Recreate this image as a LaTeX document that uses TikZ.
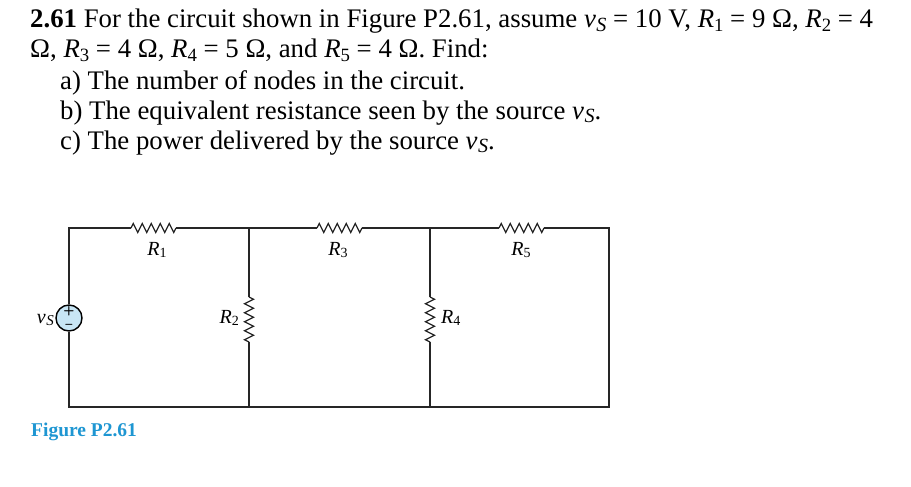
\documentclass[tikz,border=0pt]{standalone}
\usepackage{fontspec}
\setmainfont{Liberation Serif}
\usetikzlibrary{decorations.pathmorphing}
\definecolor{figblue}{RGB}{30,150,210}
\definecolor{srcfill}{RGB}{200,230,245}
\tikzset{
  wire/.style={line width=1.4pt,black!85},
  zz/.style={line width=1.2pt,black!85,decorate,decoration={zigzag,segment length=9pt,amplitude=4.5pt}},
  txt/.style={anchor=base west,inner sep=0pt,font=\fontsize{26.8}{30}\selectfont},
  lbl/.style={inner sep=0pt,font=\fontsize{20}{22}\selectfont},
  pm/.style={inner sep=0pt,font=\sffamily\bfseries\fontsize{13}{13}\selectfont}
}
\newcommand{\vS}{\textit{v}\kern0.5pt\raisebox{-0.25ex}{\scalebox{0.75}{\textit{S}}}}
\newcommand{\Rn}[1]{\textit{R}\raisebox{-0.3ex}{\scalebox{0.7}{#1}}}
\begin{document}
\begin{tikzpicture}[x=1pt,y=-1pt]
\useasboundingbox (0,0) rectangle (911,487);
\node[txt] (l1) at (30,28) {\textbf{2.61} For the circuit shown in Figure P2.61, assume \vS\ = 10 V, \Rn{1} = 9 Ω, \Rn{2} = 4};
\node[txt] (l2) at (30,58) {Ω, \Rn{3} = 4 Ω, \Rn{4} = 5 Ω, and \Rn{5} = 4 Ω. Find:};
\node[txt] (l3) at (60,89) {a) The number of nodes in the circuit.};
\node[txt] (l4) at (60,119) {b) The equivalent resistance seen by the source \vS.};
\node[txt] (l5) at (60,149) {c) The power delivered by the source \vS.};
% nodes
\coordinate (tl) at (69,228); \coordinate (bl) at (69,407);
\coordinate (t2) at (249,228); \coordinate (b2) at (249,407);
\coordinate (t4) at (430,228); \coordinate (b4) at (430,407);
\coordinate (tr) at (609,228); \coordinate (br) at (609,407);
\node[circle,draw,line width=1.4pt,fill=srcfill,minimum size=26pt,inner sep=0pt] (vs) at (69,318) {};
\node[pm] (plus) at (69,311) {+};
\node[pm] (minus) at (69,326) {–};
\node[lbl,anchor=east] (vsl) at (54,320) {\vS};
% wires
\draw[wire] (vs.north) -- (tl) -- (131,228);
\draw[zz] (131,228) -- (176,228);
\draw[wire] (176,228) -- (t2) -- (317,228);
\draw[zz] (317,228) -- (362,228);
\draw[wire] (362,228) -- (t4) -- (499,228);
\draw[zz] (499,228) -- (544,228);
\draw[wire] (544,228) -- (tr) -- (br) -- (bl) -- (vs.south);
\draw[wire] (t2) -- (249,297); \draw[zz] (249,297) -- (249,342); \draw[wire] (249,342) -- (b2);
\draw[wire] (t4) -- (430,297); \draw[zz] (430,297) -- (430,342); \draw[wire] (430,342) -- (b4);
\node[lbl] (r1) at (157,250) {\Rn{1}};
\node[lbl] (r3) at (338,250) {\Rn{3}};
\node[lbl] (r5) at (521,250) {\Rn{5}};
\node[lbl,anchor=east] (r2) at (239,318) {\Rn{2}};
\node[lbl,anchor=west] (r4) at (441,318) {\Rn{4}};
\node[anchor=base west,inner sep=0pt,text=figblue,font=\bfseries\fontsize{19.5}{22}\selectfont] (fig) at (31,436) {Figure P2.61};
\end{tikzpicture}
\end{document}
